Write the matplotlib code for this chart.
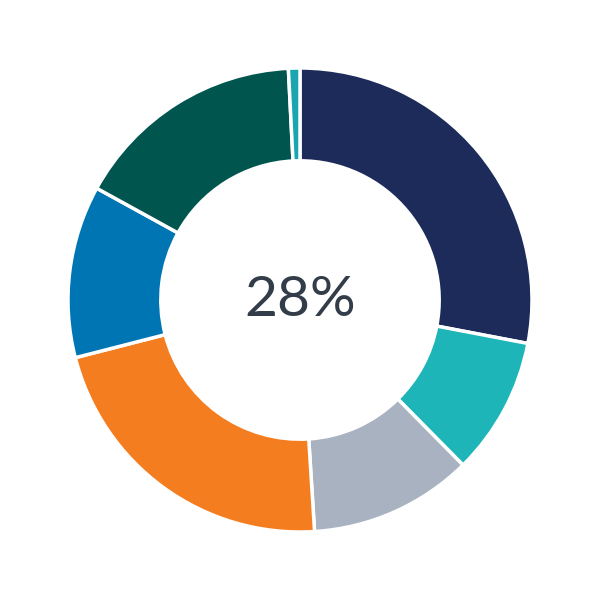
import matplotlib.pyplot as plt

shares = [28, 9.6, 11.4, 22, 12, 16.2, 0.8]
colors = ['#1c2b5a', '#1db5b7', '#a8b2c1', '#f47d20', '#0075b4', '#00564f', '#1aa6b0']
center_label = "28%"

fig = plt.figure(figsize=(6, 6), dpi=100)
ax = fig.add_axes([0, 0, 1, 1])
ax.pie(shares, colors=colors, startangle=90, counterclock=False, radius=1,
       wedgeprops=dict(width=0.4, edgecolor='white', linewidth=2.5))
ax.text(0, 0, center_label, ha='center', va='center', fontsize=41,
        color='#333d49', family=['Lato', 'DejaVu Sans'])
lim = 300 / 232
ax.set_xlim(-lim, lim)
ax.set_ylim(-lim, lim)
ax.set_aspect('equal')
ax.axis('off')
fig.savefig("out.png", dpi=100, facecolor='white')
